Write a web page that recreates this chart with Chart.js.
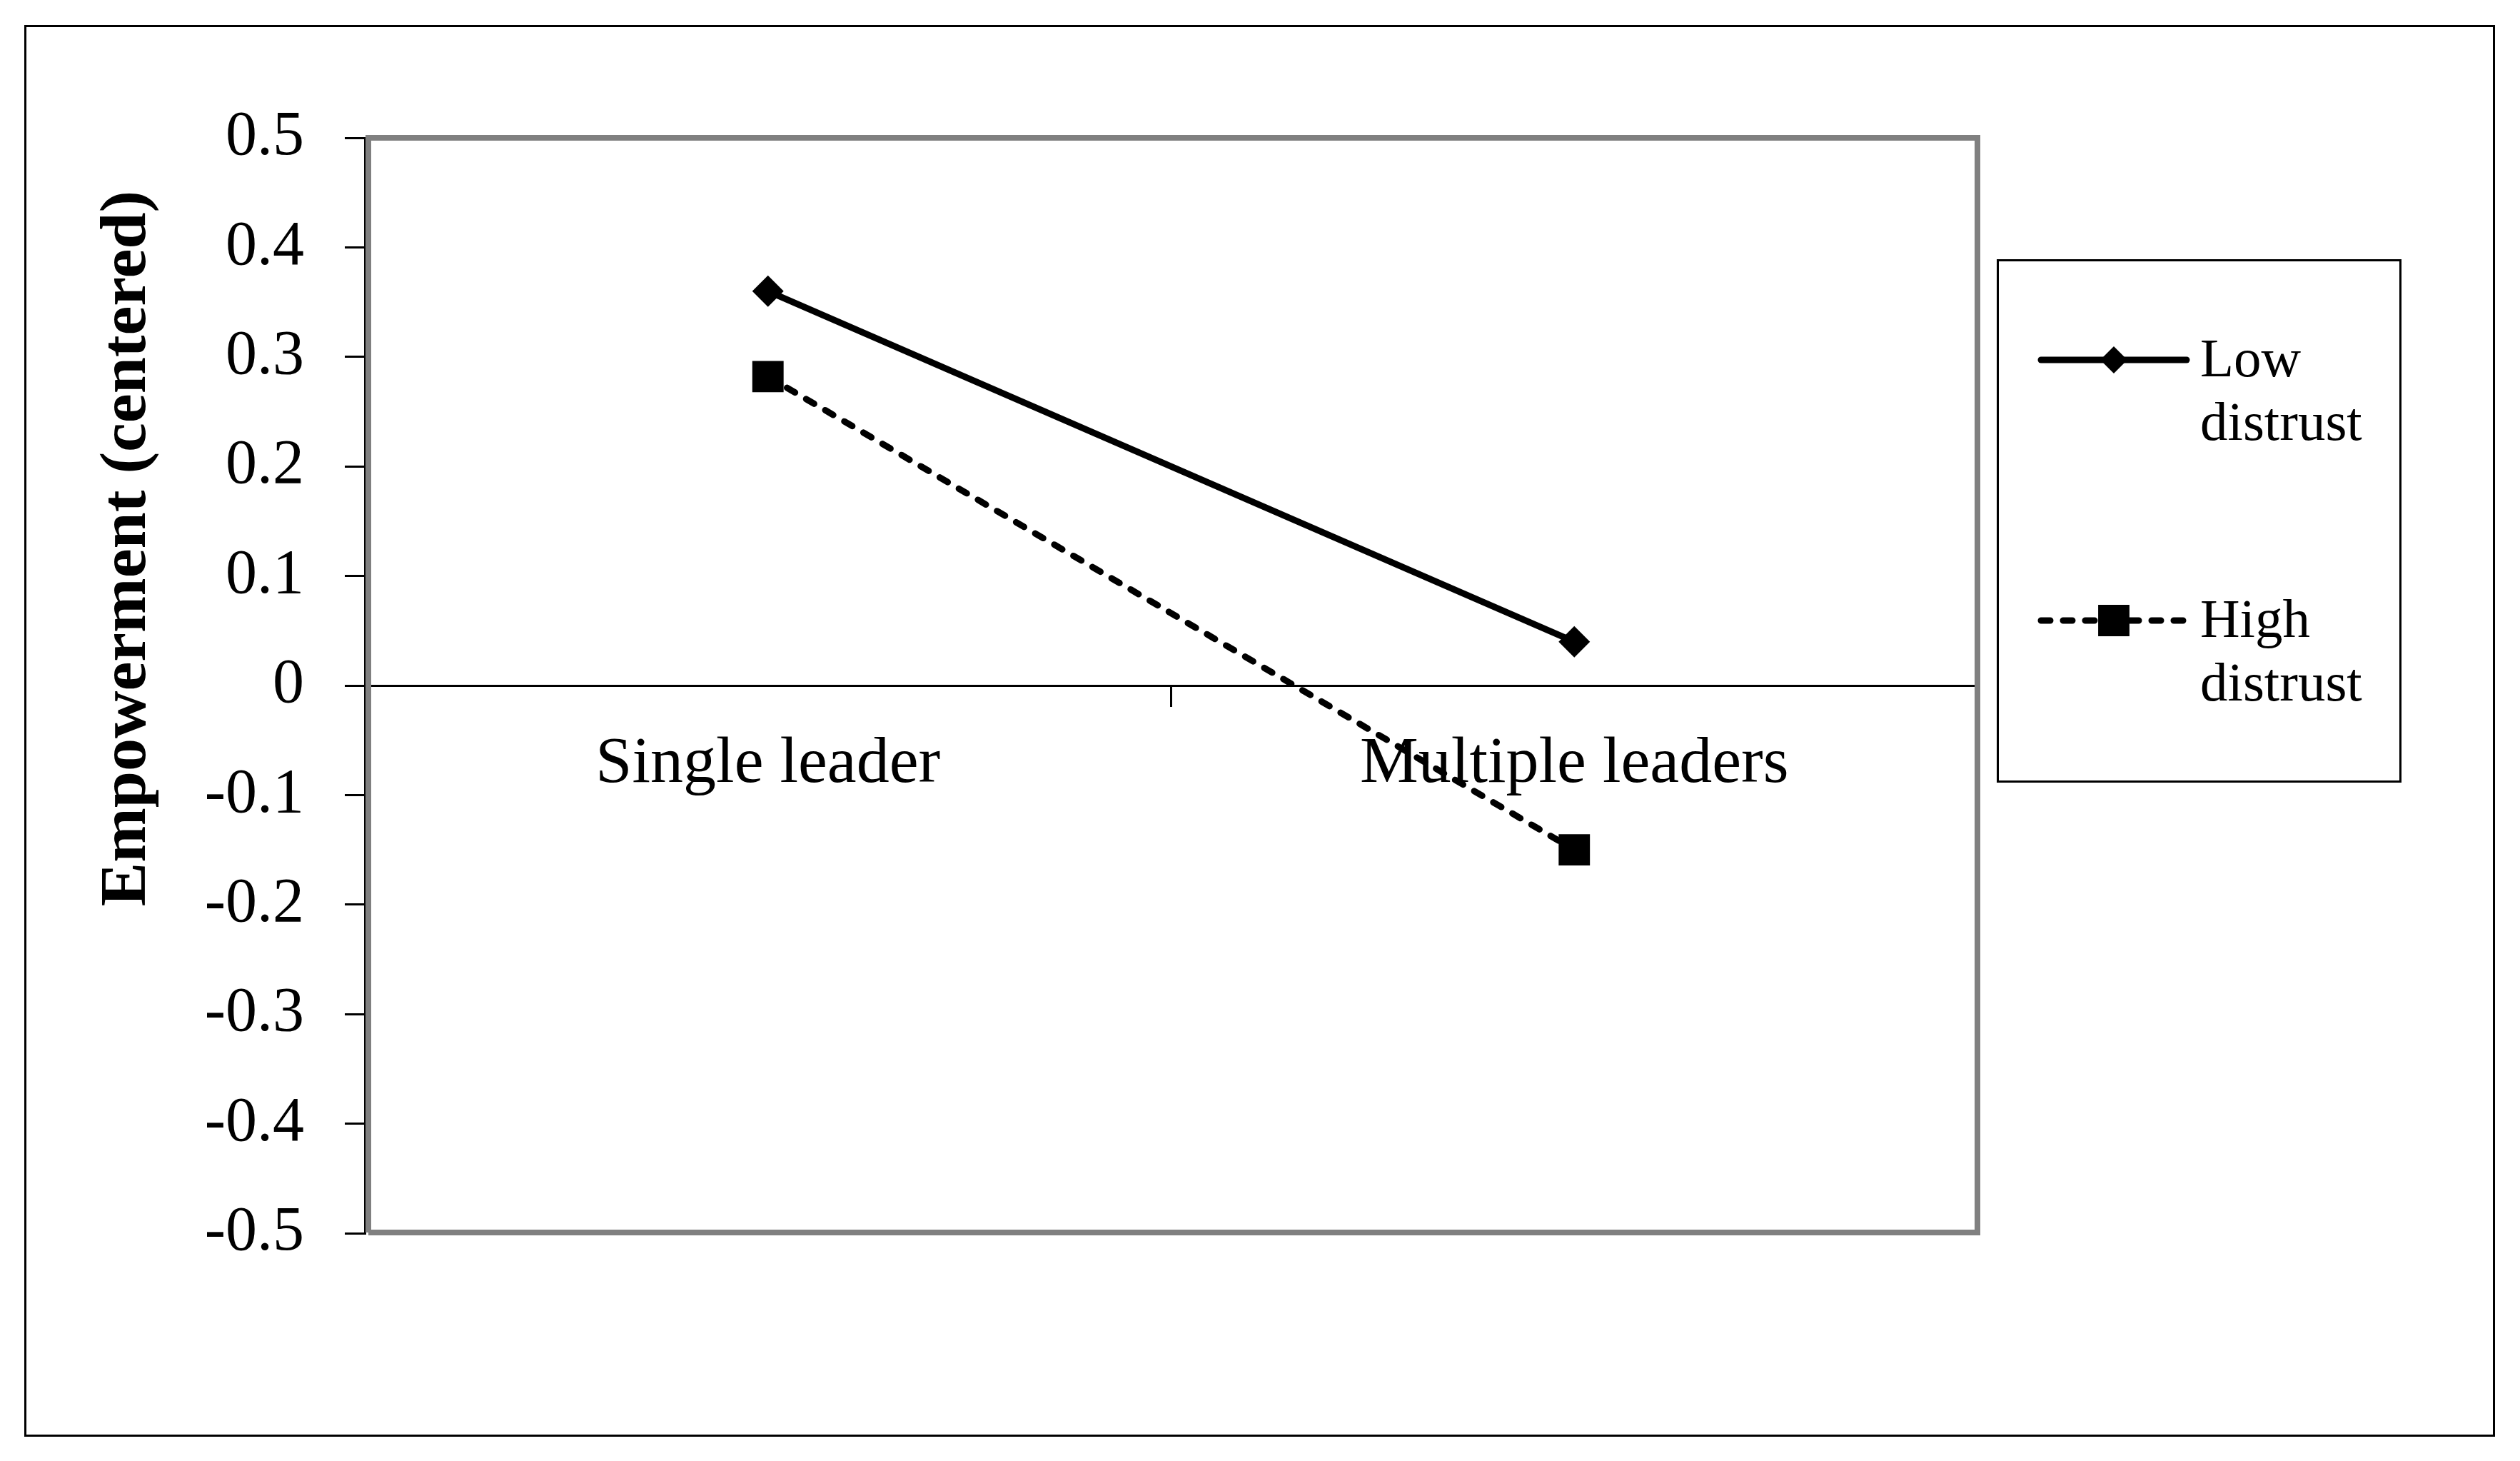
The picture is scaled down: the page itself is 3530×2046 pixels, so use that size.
<!DOCTYPE html>
<html>
<head>
<meta charset="utf-8">
<script src="https://cdn.jsdelivr.net/npm/chart.js@4.4.1/dist/chart.umd.min.js"></script>
<style>
  html, body { margin: 0; padding: 0; background: #fff; }
  canvas { display: block; }
</style>
</head>
<body>
<canvas id="chart" width="3530" height="2046"></canvas>
<script>
// values
var categories = ['Single leader', 'Multiple leaders'];
var lowDistrust = [0.36, 0.04];
var highDistrust = [0.282, -0.15];
var seriesNames = ['Low distrust', 'High distrust'];
var yTicks = [0.5, 0.4, 0.3, 0.2, 0.1, 0, -0.1, -0.2, -0.3, -0.4, -0.5];
var yTickLabels = ['0.5', '0.4', '0.3', '0.2', '0.1', '0', '-0.1', '-0.2', '-0.3', '-0.4', '-0.5'];
var yTitle = 'Empowerment (centered)';

var serif = "'Liberation Serif', 'Times New Roman', serif";
var ctx = document.getElementById('chart');

// outer frame and grey plot-area frame
var framePlugin = {
	id: 'frames',
	beforeDraw: function(chart) {
		var c = chart.ctx;
		c.save();
		c.fillStyle = '#fff';
		c.fillRect(0, 0, chart.width, chart.height);
		c.strokeStyle = '#000';
		c.lineWidth = 3;
		c.strokeRect(35.5, 36.5, 3458, 1974);
		c.restore();
	},
	beforeDatasetsDraw: function(chart) {
		var a = chart.chartArea;
		var c = chart.ctx;
		c.save();
		c.strokeStyle = '#808080';
		c.lineWidth = 8;
		c.beginPath();
		c.moveTo(a.left + 5, a.bottom - 1);
		c.lineTo(a.left + 5, a.top);
		c.lineTo(a.right, a.top);
		c.lineTo(a.right, a.bottom - 1);
		c.lineTo(a.left + 5, a.bottom - 1);
		c.stroke();
		c.restore();
	}
};

// rotated axis title and boxed legend with two-line labels
var extrasPlugin = {
	id: 'extras',
	afterDraw: function(chart) {
		var c = chart.ctx;
		var a = chart.chartArea;

		c.save();
		c.translate(203, 768);
		c.rotate(-Math.PI / 2);
		c.font = 'bold 92px ' + serif;
		c.fillStyle = '#000';
		c.textAlign = 'center';
		c.textBaseline = 'alphabetic';
		c.fillText(yTitle, 0, 0);
		c.restore();

		// legend box
		var bx = a.right + 28, by = 364, bw = 564, bh = 730;
		c.save();
		c.strokeStyle = '#000';
		c.lineWidth = 3;
		c.strokeRect(bx + 0.5, by + 0.5, bw, bh);

		var rows = [by + 140, by + 505];
		chart.data.datasets.forEach(function(ds, i) {
			var y = rows[i];
			var x1 = bx + 61, x2 = bx + 265;
			c.save();
			c.strokeStyle = ds.borderColor;
			c.lineWidth = ds.borderWidth;
			c.lineCap = 'round';
			c.setLineDash(ds.borderDash || []);
			c.beginPath();
			c.moveTo(x1, y);
			c.lineTo(x2, y);
			c.stroke();
			c.restore();
			c.save();
			c.fillStyle = ds.pointBackgroundColor;
			c.strokeStyle = ds.pointBackgroundColor;
			Chart.helpers.drawPoint(c, {
				pointStyle: ds.pointStyle,
				radius: ds.legendRadius,
				rotation: 0,
				borderWidth: 0
			}, (x1 + x2) / 2, y);
			c.restore();

			var words = ds.label.split(' ');
			c.font = '77px ' + serif;
			c.fillStyle = '#000';
			c.textAlign = 'left';
			c.textBaseline = 'alphabetic';
			c.fillText(words[0], bx + 284, y + 23);
			c.fillText(words[1], bx + 284, y + 112);
		});
		c.restore();
	}
};

var chart = new Chart(ctx, {
	type: 'line',
	data: {
		labels: categories,
		datasets: [{
			label: seriesNames[0],
			data: lowDistrust,
			borderColor: '#000',
			borderWidth: 9,
			pointStyle: 'rectRot',
			pointRadius: 22,
			legendRadius: 19,
			pointBackgroundColor: '#000',
			pointBorderWidth: 0,
			tension: 0
		}, {
			label: seriesNames[1],
			data: highDistrust,
			borderColor: '#000',
			borderWidth: 9,
			borderDash: [13, 18],
			borderCapStyle: 'round',
			pointStyle: 'rect',
			pointRadius: 31,
			legendRadius: 31,
			pointBackgroundColor: '#000',
			pointBorderWidth: 0,
			tension: 0
		}]
	},
	options: {
		responsive: false,
		animation: false,
		devicePixelRatio: 1,
		layout: {
			padding: { left: 0, right: 760, top: 193, bottom: 319 }
		},
		plugins: {
			legend: { display: false },
			tooltip: { enabled: false }
		},
		scales: {
			x: {
				type: 'category',
				position: { y: 0 },
				offset: true,
				grid: {
					display: true,
					offset: true,
					drawOnChartArea: false,
					drawTicks: true,
					tickLength: 28,
					color: '#000',
					lineWidth: 3
				},
				border: { display: true, color: '#000', width: 3 },
				ticks: {
					color: '#000',
					font: { family: serif, size: 92 },
					padding: 28,
					maxRotation: 0
				}
			},
			y: {
				min: -0.5,
				max: 0.5,
				afterFit: function(scale) {
					scale.width = 511;
				},
				afterBuildTicks: function(scale) {
					scale.ticks = yTicks.map(function(v) { return { value: v }; });
				},
				grid: {
					display: true,
					drawOnChartArea: false,
					drawTicks: true,
					tickLength: 28,
					color: '#000',
					lineWidth: 3
				},
				border: { display: true, color: '#000', width: 3 },
				ticks: {
					color: '#000',
					font: { family: serif, size: 88 },
					padding: 57,
					callback: function(value) {
						return yTickLabels[yTicks.indexOf(value)];
					}
				}
			}
		}
	},
	plugins: [framePlugin, extrasPlugin]
});
</script>
</body>
</html>
